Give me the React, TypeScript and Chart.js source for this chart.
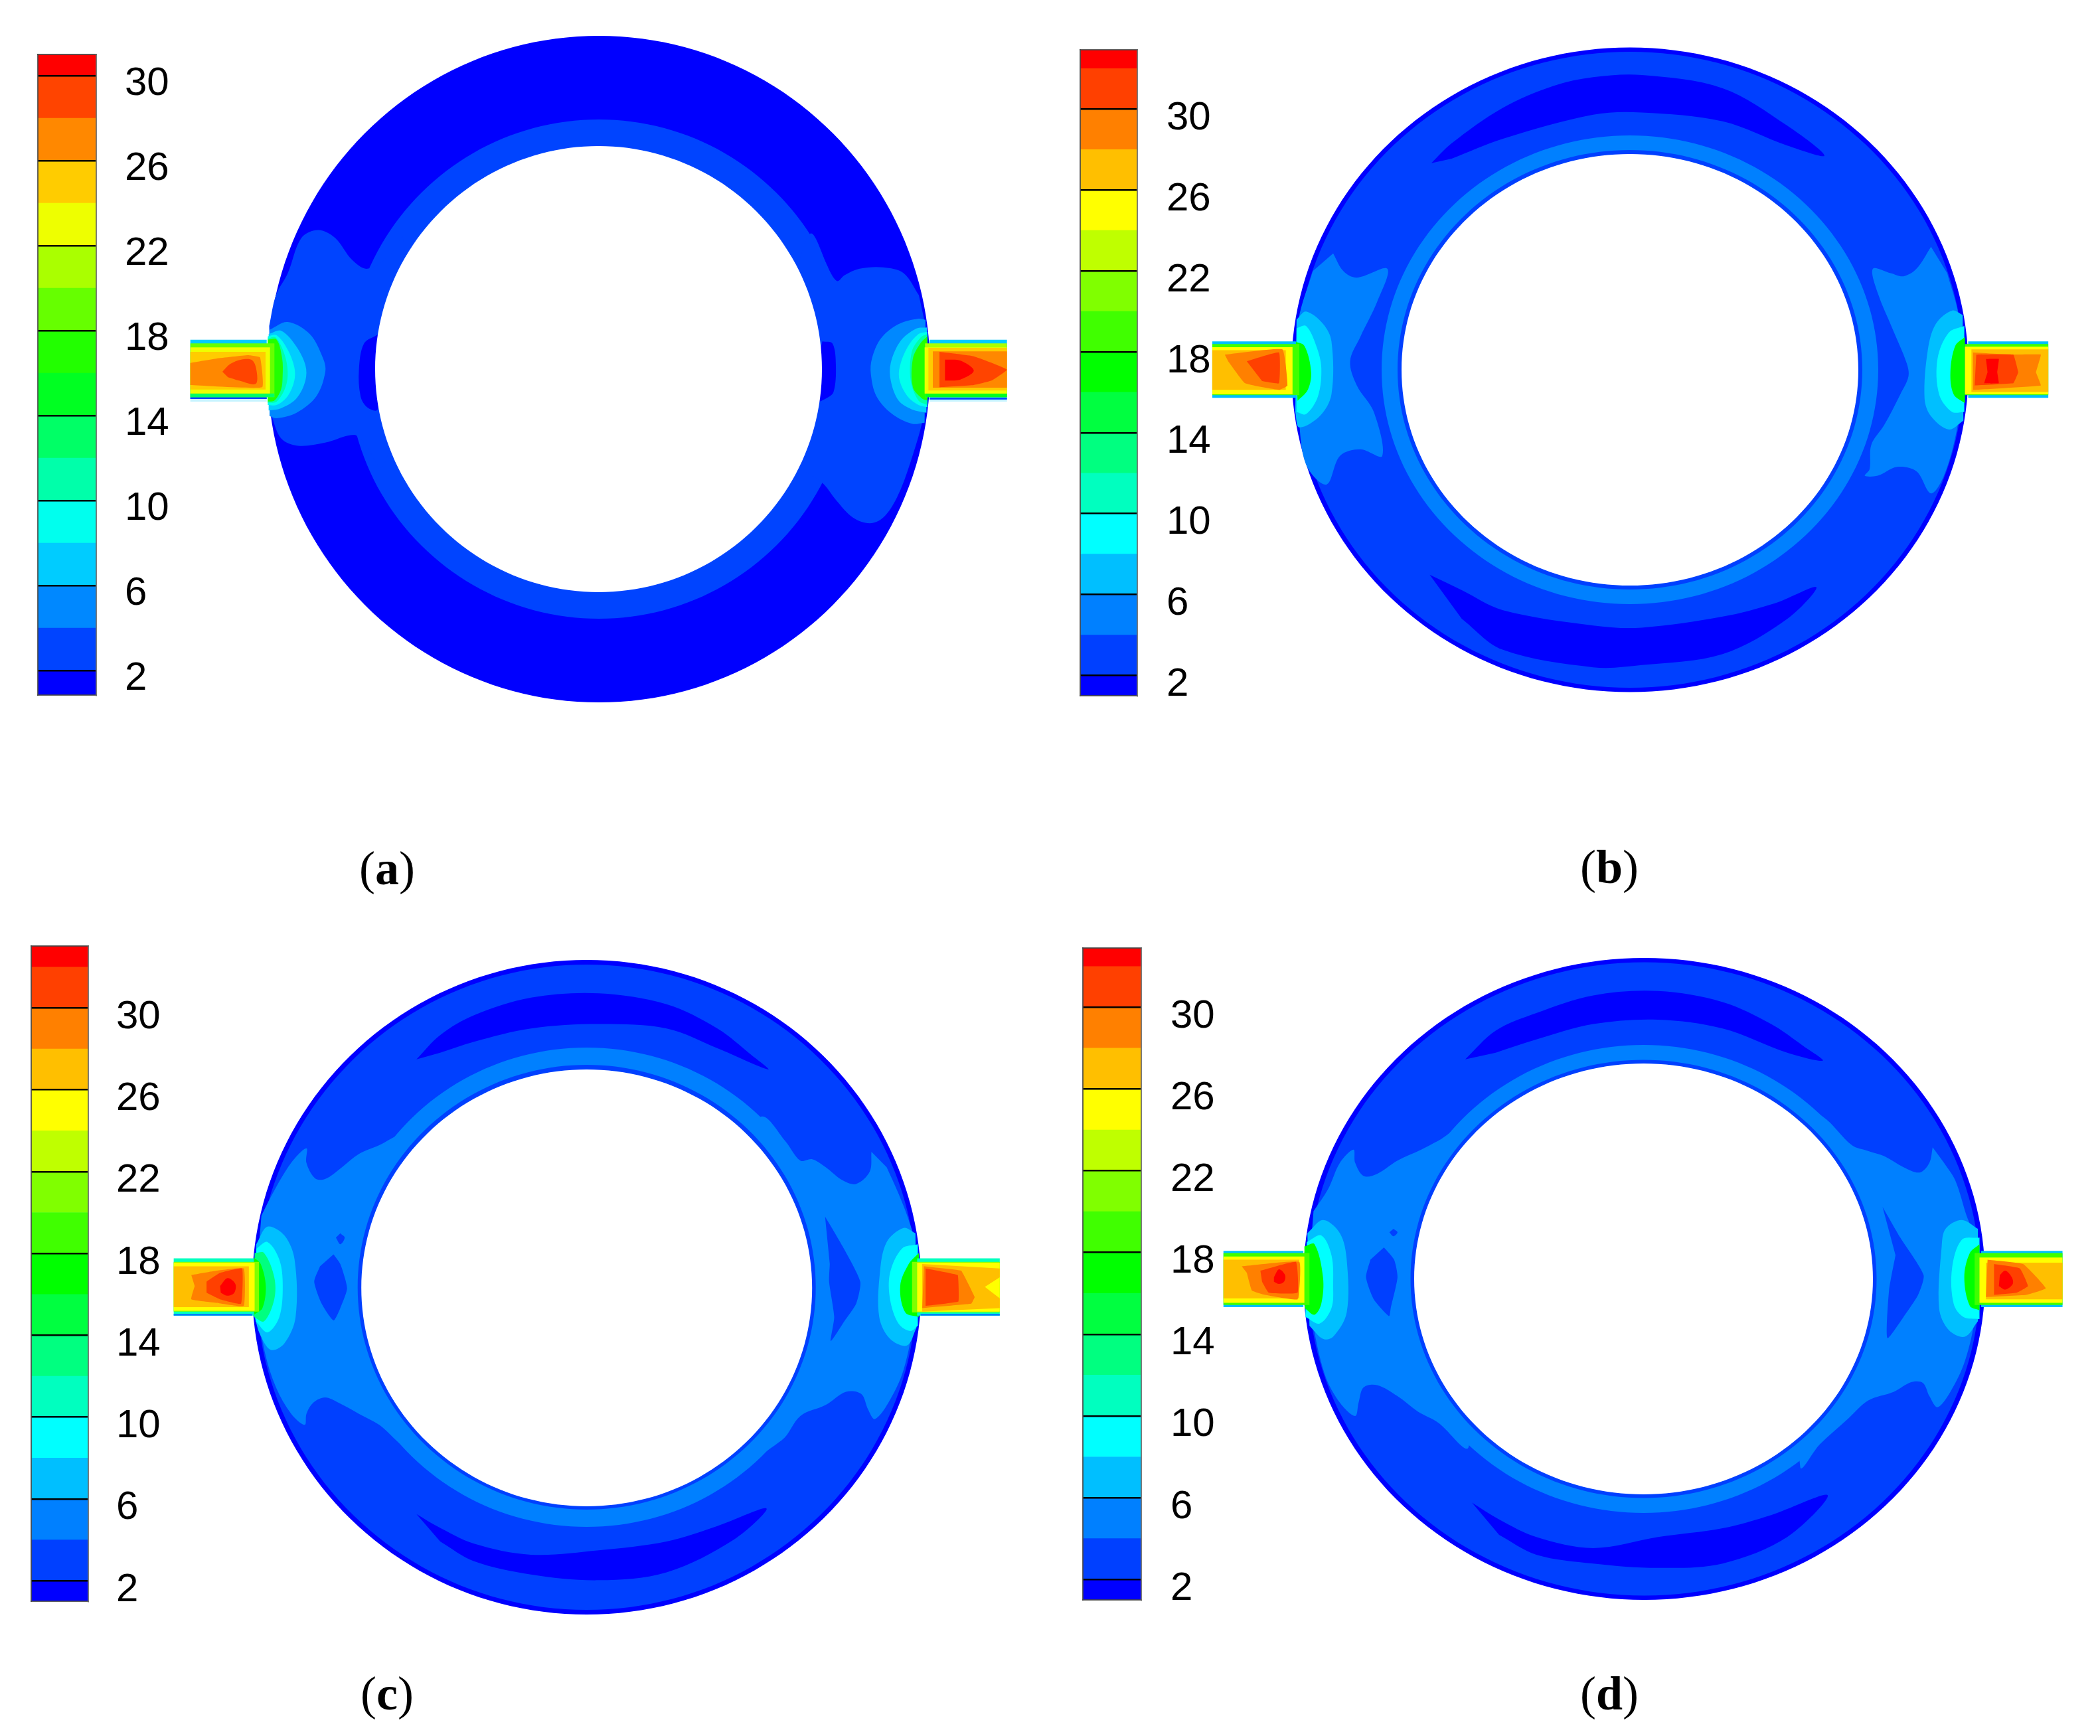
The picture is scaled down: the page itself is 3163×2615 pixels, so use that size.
import React, { useEffect, useRef } from "react";
import { Chart, registerables } from "chart.js";

Chart.register(...registerables);

type P = { x: number; y: number };
type Pts = number[][];

// ---------- colour levels ----------
const edgesA = [0.85, 2, 4, 6, 8, 10, 12, 14, 16, 18, 20, 22, 24, 26, 28, 30, 31];
const edgesB = [1, 2, 4, 6, 8, 10, 12, 14, 16, 18, 20, 22, 24, 26, 28, 30, 32, 33.1];
const A = ["#0000ff", "#0044ff", "#0088ff", "#00ccff", "#00ffee", "#00ffaa", "#00ff66", "#00ff22", "#22ff00", "#66ff00", "#aaff00", "#eeff00", "#ffcc00", "#ff8800", "#ff4400", "#ff0000"];
const B = ["#0000ff", "#0040ff", "#0080ff", "#00bfff", "#00ffff", "#00ffbf", "#00ff80", "#00ff40", "#00ff00", "#40ff00", "#80ff00", "#bfff00", "#ffff00", "#ffbf00", "#ff8000", "#ff4000", "#ff0000"];
const tickValues = [2, 6, 10, 14, 18, 22, 26, 30];
const captions = ["a", "b", "c", "d"];

// ---------- reading frames of the picture (field units) ----------
const frame = (ox: number, oy: number, fx: number, fy: number) => (pts: Pts): P[] =>
  pts.map(([x, y]) => ({ x: ox + x * fx, y: oy + y * fy }));
const f1 = frame(0, 40, 0.51, 0.6633);
const f2 = frame(800, 40, 0.51, 0.6633);
const f3 = frame(260, 440, 1 / 3, 1 / 3);
const f4 = frame(1240, 440, 1 / 3, 1 / 3);
const f5 = frame(1600, 50, 0.51, 0.6633);
const f6 = frame(2400, 50, 0.4866, 0.6633);
const f7 = frame(0, 1400, 0.51, 0.6633);
const f8 = frame(800, 1400, 0.51, 0.6633);
const f9 = frame(1600, 1400, 0.51, 0.6633);
const f10 = frame(2400, 1400, 0.4866, 0.6633);

// the outline overlaps itself by one step at each end so the spline has no corner where it closes
const ringOutline = [[0.966, -0.259], [1, 0], [0.966, 0.259], [0.866, 0.5], [0.707, 0.707], [0.5, 0.866], [0.259, 0.966], [0, 1], [-0.259, 0.966], [-0.5, 0.866], [-0.707, 0.707], [-0.866, 0.5], [-0.966, 0.259], [-1, 0], [-0.966, -0.259], [-0.866, -0.5], [-0.707, -0.707], [-0.5, -0.866], [-0.259, -0.966], [0, -1], [0.259, -0.966], [0.5, -0.866], [0.707, -0.707], [0.866, -0.5], [0.966, -0.259], [1, 0], [0.966, 0.259]];
const ell = (cx: number, cy: number, rx: number, ry: number): P[] => ringOutline.map(([u, v]) => ({ x: cx + rx * u, y: cy + ry * v }));
const box = (f: (p: Pts) => P[], x0: number, y0: number, x1: number, y1: number): P[] => f([[x0, y0], [x1, y0], [x1, y1], [x0, y1]]);

type Layer = [P[], string, number?];
const SOFT = 0.337;

// ---------- panel (a) ----------
const aLeftPatch = f1([[795, 680], [815, 610], [850, 560], [890, 480], [940, 462], [990, 480], [1040, 530], [1085, 550], [1150, 520], [1190, 480], [1200, 780], [1130, 1000], [1075, 945], [1045, 927], [960, 945], [880, 952], [830, 935], [800, 880]]);
const aLeftBlob = f1([[1115, 700], [1075, 720], [1060, 780], [1065, 840], [1085, 865], [1115, 870], [1130, 780]]);
const aRightPatch = f2([[1145, 610], [1100, 560], [1040, 547], [970, 550], [925, 565], [905, 578], [885, 560], [825, 470], [780, 600], [780, 980], [865, 1040], [900, 1075], [950, 1115], [1000, 1128], [1040, 1115], [1080, 1070], [1120, 990], [1160, 880], [1172, 780], [1165, 680]]);
const aRightBlob = f2([[860, 715], [890, 720], [900, 770], [893, 830], [870, 845], [845, 850], [840, 780]]);
const aL1 = f3([[438, 170], [520, 135], [620, 190], [680, 300], [690, 360], [650, 470], [560, 545], [470, 570], [438, 560]]);
const aL2 = f3([[434, 190], [490, 175], [555, 240], [600, 330], [600, 400], [560, 480], [490, 525], [434, 535]]);
const aL3 = f3([[430, 200], [470, 195], [520, 260], [550, 340], [550, 400], [520, 470], [470, 510], [430, 510]]);
const aL4 = f3([[430, 210], [465, 205], [505, 280], [520, 360], [510, 430], [470, 495], [430, 500]]);
const aL5 = f3([[430, 215], [470, 215], [495, 300], [497, 380], [490, 440], [460, 490], [430, 495]]);
const aLOrange = f3([[80, 320], [200, 300], [340, 285], [395, 295], [405, 430], [80, 420]]);
const aLRed = f3([[225, 360], [260, 325], [310, 305], [360, 308], [380, 360], [375, 415], [300, 400], [250, 385]]);
const aR1 = f4([[462, 125], [430, 120], [340, 145], [260, 210], [220, 300], [215, 370], [240, 470], [310, 550], [400, 595], [458, 590]]);
const aR2 = f4([[468, 160], [420, 165], [350, 220], [305, 320], [305, 400], [340, 490], [400, 530], [466, 545]]);
const aR3 = f4([[470, 180], [430, 190], [380, 250], [345, 340], [345, 400], [380, 470], [430, 510], [470, 520]]);
const aR4 = f4([[470, 190], [440, 205], [400, 270], [395, 400], [430, 490], [470, 510]]);
const aR5 = f4([[470, 200], [440, 230], [405, 300], [405, 430], [445, 480], [470, 490]]);
const aROrangeRed = f4([[525, 270], [680, 290], [830, 350], [760, 400], [680, 420], [525, 430]]);
const aRRed = f4([[550, 305], [620, 310], [680, 355], [620, 395], [550, 400]]);

const panelA: Layer[] = [
  [ell(902, 556, 499, 502), A[0], SOFT],
  [ell(902, 556, 378, 376), A[1], SOFT],
  [aLeftPatch, A[1], SOFT],
  [aRightPatch, A[1], SOFT],
  [aLeftBlob, A[0], SOFT],
  [aRightBlob, A[0], SOFT],
  [aL1, A[2], SOFT], [aL2, A[3], SOFT], [aL3, A[4], SOFT], [aL4, A[5], SOFT], [aL5, A[8], SOFT],
  [box(f3, 80, 483, 425, 495), "#c8f4ff", 0],
  [box(f3, 80, 215, 425, 483), A[3], 0],
  [box(f3, 80, 475, 425, 483), A[1], 0],
  [box(f3, 80, 232, 460, 475), A[9], 0],
  [box(f3, 80, 458, 460, 475), A[6], 0],
  [box(f3, 80, 250, 440, 458), A[11], 0],
  [box(f3, 80, 270, 420, 440), A[12], 0],
  [aLOrange, A[13], 0.1], [aLRed, A[14], SOFT],
  [aR1, A[2], SOFT], [aR2, A[3], SOFT], [aR3, A[4], SOFT], [aR4, A[5], SOFT], [aR5, A[8], SOFT],
  [box(f4, 480, 485, 830, 495), "#c8f4ff", 0],
  [box(f4, 480, 215, 830, 485), A[3], 0],
  [box(f4, 480, 478, 830, 485), A[1], 0],
  [box(f4, 460, 232, 830, 475), A[10], 0],
  [box(f4, 460, 458, 830, 475), A[7], 0],
  [box(f4, 458, 250, 830, 458), A[11], 0],
  [box(f4, 475, 252, 830, 445), A[12], 0],
  [box(f4, 495, 268, 830, 432), A[13], 0],
  [aROrangeRed, A[14], 0.1], [aRRed, A[15], SOFT],
  [ell(901.5, 556, 336.5, 336), "#ffffff", SOFT],
];

// ---------- panel (b) ----------
const bTopCres = [...f5([[1090, 295], [1150, 250], [1300, 170], [1450, 120], [1568, 100]]), ...f6([[150, 95], [400, 125], [600, 210], [715, 278], [600, 255], [400, 200], [150, 180]]), ...f5([[1568, 185], [1300, 240], [1150, 285]])];
const bBotCres = [...f5([[1085, 1230], [1180, 1265], [1300, 1310], [1568, 1345]]), ...f6([[150, 1350], [400, 1325], [560, 1295], [690, 1258], [600, 1330], [400, 1410], [150, 1435]]), ...f5([[1568, 1440], [1300, 1400], [1180, 1330]])];
const bLPatch = f5([[800, 500], [830, 540], [870, 555], [960, 535], [930, 610], [880, 690], [850, 745], [870, 800], [920, 860], [945, 960], [880, 945], [820, 960], [780, 1025], [720, 980], [698, 870], [690, 780], [698, 650], [740, 540]]);
const bRPatch = f6([[1045, 485], [1000, 535], [960, 552], [920, 545], [865, 535], [880, 590], [925, 670], [970, 750], [975, 780], [950, 820], [900, 890], [860, 935], [855, 990], [840, 1005], [880, 1005], [940, 985], [1000, 995], [1045, 1045], [1085, 1005], [1125, 900], [1145, 780], [1130, 640], [1095, 545]]);
const bL1 = f5([[692, 650], [720, 632], [770, 660], [795, 700], [795, 820], [760, 870], [700, 895], [688, 860]]);
const bL2 = f5([[692, 670], [720, 665], [750, 710], [765, 760], [755, 825], [720, 865], [692, 860]]);
const bL3 = f5([[685, 700], [715, 710], [735, 770], [725, 810], [695, 835]]);
const bLOrange = f5([[480, 730], [650, 718], [665, 800], [640, 810], [540, 795], [490, 745]]);
const bLRed = f5([[545, 745], [640, 725], [640, 795], [590, 790]]);
const bR1 = f6([[1143, 640], [1110, 630], [1060, 660], [1035, 720], [1025, 830], [1045, 870], [1100, 900], [1145, 880]]);
const bR2 = f6([[1148, 665], [1100, 680], [1065, 740], [1070, 820], [1110, 860], [1148, 860]]);
const bR3 = f6([[1150, 690], [1120, 710], [1105, 770], [1115, 820], [1150, 840]]);
const bROrange = f6([[1175, 725], [1300, 730], [1385, 730], [1370, 770], [1385, 800], [1175, 810]]);
const bROrangeRed = f6([[1185, 730], [1300, 730], [1315, 770], [1300, 795], [1180, 800]]);
const bRRed = f6([[1215, 740], [1255, 740], [1250, 770], [1255, 795], [1210, 795], [1220, 770]]);

const panelB: Layer[] = [
  [ell(2455, 557, 510, 485.5), B[0], SOFT],
  [ell(2455, 557, 503, 479), B[1], SOFT],
  [bTopCres, B[0], SOFT], [bBotCres, B[0], SOFT],
  [ell(2455, 557, 374, 353), B[2], SOFT],
  [bLPatch, B[2], SOFT], [bRPatch, B[2], SOFT],
  [ell(2455, 557, 350, 331), B[1], SOFT],
  [bL1, B[3], SOFT], [bL2, B[4], SOFT], [bL3, B[8], SOFT],
  [box(f5, 443, 700, 690, 828), B[3], 0],
  [box(f5, 443, 706, 700, 822), B[9], 0],
  [box(f5, 443, 713, 680, 820), B[12], 0],
  [box(f5, 443, 720, 660, 810), B[13], 0],
  [bLOrange, B[14], 0.1], [bLRed, B[15], 0.1],
  [bR1, B[3], SOFT], [bR2, B[4], SOFT], [bR3, B[8], SOFT],
  [box(f6, 1160, 700, 1408, 828), B[3], 0],
  [box(f6, 1150, 706, 1408, 822), B[9], 0],
  [box(f6, 1150, 712, 1408, 820), B[12], 0],
  [box(f6, 1170, 718, 1408, 815), B[13], 0],
  [bROrange, B[14], 0.05], [bROrangeRed, B[15], 0.05], [bRRed, B[16], 0.05],
  [ell(2455, 557, 344, 325), "#ffffff", SOFT],
];

// ---------- panel (c) ----------
const cTopCres = [...f7([[1230, 295], [1300, 240], [1400, 195], [1568, 155]]), ...f8([[200, 145], [400, 170], [550, 225], [650, 285], [700, 318], [550, 270], [400, 225], [200, 215]]), ...f7([[1568, 225], [1400, 255], [1300, 280]])];
const cBotCres = [...f7([[1230, 1328], [1290, 1355], [1400, 1395], [1568, 1420]]), ...f8([[200, 1410], [400, 1390], [550, 1355], [695, 1315], [600, 1385], [400, 1460], [200, 1478]]), ...f7([[1568, 1465], [1400, 1435], [1300, 1390]])];
const cLPatch = f7([[772, 650], [805, 600], [860, 530], [905, 497], [905, 530], [930, 565], [960, 567], [1010, 540], [1060, 510], [1120, 490], [1185, 465], [1220, 470], [1180, 800], [1200, 1170], [1120, 1125], [1060, 1100], [1000, 1075], [960, 1063], [925, 1075], [905, 1100], [900, 1125], [860, 1100], [815, 1040], [782, 960], [762, 860], [760, 760]]);
const cLDiamond = f7([[985, 738], [1005, 760], [1025, 815], [1005, 860], [985, 888], [950, 850], [928, 800], [945, 765]]);
const cLDot = f7([[1005, 690], [1018, 700], [1005, 715], [992, 700]]);
const cRPatch = f8([[1005, 505], [1000, 550], [960, 578], [920, 570], [870, 540], [830, 522], [795, 525], [750, 480], [680, 425], [600, 500], [620, 1200], [740, 1160], [795, 1105], [870, 1080], [930, 1050], [975, 1055], [995, 1090], [1015, 1112], [1055, 1075], [1100, 1000], [1130, 880], [1135, 720], [1115, 660], [1085, 600], [1050, 540]]);
const cRDark = f8([[868, 652], [920, 720], [972, 800], [960, 850], [925, 890], [885, 935], [895, 880], [880, 800], [882, 760]]);
const cL1 = f7([[757, 715], [790, 675], [840, 695], [870, 750], [873, 880], [840, 940], [800, 955], [768, 920], [752, 880]]);
const cL2 = f7([[757, 725], [790, 710], [825, 750], [835, 810], [825, 880], [790, 915], [755, 890]]);
const cL3 = f7([[752, 735], [780, 735], [810, 790], [810, 840], [780, 890], [750, 880]]);
const cL4 = f7([[750, 745], [770, 760], [785, 810], [775, 860], [750, 875]]);
const cLOrange = f7([[565, 785], [640, 775], [720, 770], [720, 855], [640, 848], [565, 840], [575, 810]]);
const cLOrangeRed = f7([[610, 800], [650, 780], [715, 770], [712, 850], [650, 840], [610, 825]]);
const cLRed = f7([[650, 810], [672, 792], [695, 805], [692, 825], [672, 832], [652, 825]]);
const cR1 = f8([[1135, 690], [1100, 678], [1050, 710], [1030, 780], [1028, 880], [1060, 930], [1110, 945], [1138, 905]]);
const cR2 = f8([[1142, 715], [1095, 725], [1060, 780], [1060, 840], [1085, 895], [1120, 912], [1142, 900]]);
const cR3 = f8([[1145, 735], [1115, 760], [1090, 810], [1105, 870], [1145, 880]]);
const cRAmber = f8([[1155, 760], [1384, 770], [1384, 790], [1340, 812], [1384, 838], [1384, 860], [1155, 868]]);
const cROrange = f8([[1160, 765], [1270, 775], [1310, 835], [1300, 850], [1155, 860]]);
const cROrangeRed = f8([[1165, 770], [1260, 785], [1262, 845], [1165, 855]]);

const panelC: Layer[] = [
  [ell(883.7, 1939, 504, 493), B[0], SOFT],
  [ell(883.7, 1939, 497, 486), B[1], SOFT],
  [cTopCres, B[0], SOFT], [cBotCres, B[0], SOFT],
  [ell(883.7, 1939, 372, 361), B[2], SOFT],
  [cLPatch, B[2], SOFT], [cRPatch, B[2], SOFT],
  [cLDiamond, B[1], 0.2], [cLDot, B[1], SOFT], [cRDark, B[1], 0.2],
  [ell(883.7, 1939, 345, 335), B[1], SOFT],
  [cL1, B[3], SOFT], [cL2, B[4], SOFT], [cL3, B[6], SOFT], [cL4, B[8], SOFT],
  [box(f7, 513, 747, 750, 877), B[5], 0],
  [box(f7, 513, 873, 745, 877), B[2], 0],
  [box(f7, 513, 755, 765, 868), B[10], 0],
  [box(f7, 513, 757, 752, 866), B[12], 0],
  [box(f7, 513, 765, 735, 858), B[13], 0],
  [cLOrange, B[14], 0.1], [cLOrangeRed, B[15], 0.1], [cLRed, B[16], SOFT],
  [cR1, B[3], SOFT], [cR2, B[4], SOFT], [cR3, B[8], SOFT],
  [box(f8, 1140, 747, 1384, 877), B[5], 0],
  [box(f8, 1150, 873, 1384, 877), B[2], 0],
  [box(f8, 1125, 755, 1384, 870), B[10], 0],
  [box(f8, 1140, 757, 1384, 868), B[12], 0],
  [cRAmber, B[13], 0],
  [cROrange, B[14], 0.05], [cROrangeRed, B[15], 0.05],
  [ell(883.7, 1940, 339.5, 329), "#ffffff", SOFT],
];

// ---------- panel (d) ----------
const dTopCres = [...f9([[1190, 295], [1280, 230], [1400, 190], [1568, 150]]), ...f10([[200, 140], [400, 165], [550, 215], [650, 265], [710, 298], [600, 280], [400, 225], [200, 205]]), ...f9([[1568, 215], [1400, 250], [1280, 280]])];
const dBotCres = [...f9([[1210, 1302], [1290, 1340], [1400, 1380], [1568, 1405]]), ...f10([[200, 1380], [400, 1360], [550, 1330], [725, 1285], [600, 1380], [400, 1440], [200, 1450]]), ...f9([[1568, 1440], [1400, 1420], [1290, 1375]])];
const dLPatch = f9([[742, 640], [785, 590], [820, 530], [860, 500], [865, 530], [890, 560], [930, 555], [990, 525], [1060, 500], [1110, 480], [1190, 450], [1220, 800], [1200, 1175], [1110, 1120], [1050, 1095], [990, 1060], [930, 1035], [890, 1040], [875, 1075], [865, 1105], [820, 1075], [775, 1010], [738, 880], [730, 760]]);
const dLDiamond = f9([[950, 722], [980, 750], [990, 790], [970, 860], [965, 878], [920, 840], [897, 790], [910, 750]]);
const dLDot = f9([[978, 680], [990, 688], [978, 697], [966, 688]]);
const dRPatch = f10([[1050, 495], [1040, 530], [1010, 552], [960, 540], [900, 515], [850, 503], [800, 490], [710, 425], [600, 390], [640, 1220], [700, 1170], [790, 1110], [850, 1070], [930, 1050], [985, 1028], [1020, 1030], [1040, 1060], [1065, 1085], [1105, 1050], [1150, 980], [1180, 880], [1185, 710], [1155, 650], [1120, 570], [1085, 530]]);
const dRDark = f10([[895, 630], [950, 700], [1022, 785], [1005, 830], [960, 880], [910, 928], [915, 820], [935, 740]]);
const dL1 = f9([[724, 690], [770, 660], [820, 690], [840, 750], [840, 870], [800, 925], [770, 930], [730, 900]]);
const dL2 = f9([[722, 710], [765, 695], [795, 740], [800, 810], [795, 860], [760, 895], [718, 880]]);
const dL3 = f9([[715, 720], [745, 715], [770, 790], [765, 850], [745, 875], [716, 860]]);
const dLOrange = f9([[530, 765], [700, 755], [695, 840], [600, 830], [560, 820], [545, 780]]);
const dLOrangeRed = f9([[585, 775], [690, 755], [695, 825], [610, 825], [590, 800]]);
const dLRed = f9([[625, 790], [640, 772], [658, 785], [655, 800], [640, 805], [625, 800]]);
const dR1 = f10([[1190, 680], [1140, 660], [1090, 680], [1078, 720], [1070, 860], [1100, 910], [1150, 925], [1190, 890]]);
const dR2 = f10([[1195, 700], [1140, 705], [1110, 770], [1115, 850], [1145, 880], [1195, 885]]);
const dR3 = f10([[1195, 715], [1165, 735], [1148, 790], [1165, 855], [1195, 865]]);
const dROrange = f10([[1220, 750], [1330, 760], [1400, 815], [1340, 830], [1215, 835]]);
const dROrangeRed = f10([[1240, 760], [1320, 770], [1345, 810], [1310, 825], [1240, 830]]);
const dRRed = f10([[1258, 785], [1275, 775], [1295, 790], [1298, 805], [1275, 818], [1255, 810]]);

const panelD: Layer[] = [
  [ell(2476.5, 1926.5, 513.5, 483.5), B[0], SOFT],
  [ell(2476.5, 1926.5, 506, 477), B[1], SOFT],
  [dTopCres, B[0], SOFT], [dBotCres, B[0], SOFT],
  [ell(2475.5, 1926.5, 374, 352.5), B[2], SOFT],
  [dLPatch, B[2], SOFT], [dRPatch, B[2], SOFT],
  [dLDiamond, B[1], 0.2], [dLDot, B[1], SOFT], [dRDark, B[1], 0.2],
  [ell(2475.5, 1926.5, 351, 330), B[1], SOFT],
  [dL1, B[3], SOFT], [dL2, B[4], SOFT], [dL3, B[8], SOFT],
  [box(f9, 476, 730, 712, 858), B[3], 0],
  [box(f9, 476, 735, 730, 853), B[9], 0],
  [box(f9, 476, 743, 715, 848), B[12], 0],
  [box(f9, 476, 750, 700, 838), B[13], 0],
  [dLOrange, B[14], 0.1], [dLOrangeRed, B[15], 0.1], [dLRed, B[16], SOFT],
  [dR1, B[3], SOFT], [dR2, B[4], SOFT], [dR3, B[8], SOFT],
  [box(f10, 1200, 730, 1452, 858), B[3], 0],
  [box(f10, 1180, 735, 1452, 853), B[9], 0],
  [box(f10, 1195, 745, 1452, 848), B[12], 0],
  [box(f10, 1215, 757, 1452, 840), B[13], 0],
  [dROrange, B[14], 0.1], [dROrangeRed, B[15], 0.1], [dRRed, B[16], SOFT],
  [ell(2475.5, 1926.5, 345.5, 324.5), "#ffffff", SOFT],
];

const allLayers: Layer[] = [...panelA, ...panelB, ...panelC, ...panelD];

// ---------- colour bars ----------
const PAD = 3;
const LABEL_W = 130;
const bars = [
  { edges: edgesA, colors: A, left: 57, right: 145, top: 82, bottom: 1047, min: 0.85, max: 31.0, pad: 43, off: 12 },
  { edges: edgesB, colors: B, left: 1627, right: 1713, top: 74.5, bottom: 1048, min: 1.0, max: 32.93, pad: 44, off: 14 },
  { edges: edgesB, colors: B, left: 47, right: 133, top: 1424.5, bottom: 2411.5, min: 1.0, max: 33.03, pad: 42, off: 14 },
  { edges: edgesB, colors: B, left: 1631, right: 1719, top: 1428, bottom: 2410, min: 1.0, max: 32.9, pad: 44, off: 14 },
];
const captionAt = [[583, 1308], [2424, 1306], [583, 2551], [2424, 2551]];

const hiddenAxis = (extra: any) => ({
  display: true,
  ticks: { display: false },
  grid: { display: false, drawTicks: false },
  border: { display: true, color: "rgba(70,70,70,0.85)", width: 2, z: 2 },
  ...extra,
});

function ColorBar({ spec }: { spec: (typeof bars)[number] }) {
  const ref = useRef<HTMLCanvasElement>(null);
  useEffect(() => {
    const bands = spec.colors.map((color, i) => ({
      label: `${spec.edges[i]}–${spec.edges[i + 1]}`,
      data: [[Math.max(spec.edges[i], spec.min), Math.min(spec.edges[i + 1], spec.max)]],
      backgroundColor: color,
      borderWidth: 0,
      barPercentage: 1,
      categoryPercentage: 1,
    }));
    const chart = new Chart(ref.current!, {
      type: "bar",
      data: { labels: ["level"], datasets: bands as any },
      options: {
        responsive: false,
        animation: false,
        devicePixelRatio: 1,
        layout: { padding: { left: PAD, top: PAD, bottom: PAD, right: 0 } },
        plugins: { legend: { display: false }, tooltip: { enabled: false } },
        scales: {
          x: hiddenAxis({ type: "category", position: "bottom", stacked: true, afterFit: (s: any) => { s.height = 0; s.paddingLeft = 0; s.paddingRight = 0; } }),
          xTop: hiddenAxis({ type: "category", position: "top", labels: ["level"], afterFit: (s: any) => { s.height = 0; s.paddingLeft = 0; s.paddingRight = 0; } }),
          yLeft: hiddenAxis({ type: "linear", position: "left", min: spec.min, max: spec.max, afterFit: (s: any) => { s.width = 0; s.paddingTop = 0; s.paddingBottom = 0; } }),
          y: {
            type: "linear",
            position: "right",
            min: spec.min,
            max: spec.max,
            afterBuildTicks: (axis: any) => { axis.ticks = tickValues.map((value) => ({ value })); },
            afterFit: (s: any) => { s.width = LABEL_W; s.paddingTop = 0; s.paddingBottom = 0; },
            grid: { color: "#000000", lineWidth: 2.5, drawTicks: false, z: 1 },
            border: { display: true, color: "rgba(110,110,110,0.9)", width: 2, z: 2 },
            ticks: {
              autoSkip: false,
              padding: spec.pad,
              labelOffset: spec.off,
              color: "#000000",
              font: { family: "'Liberation Sans'", size: 60 },
              callback: (v: any) => String(v),
            },
          },
        } as any,
      },
    });
    return () => chart.destroy();
  }, []);
  return (
    <canvas
      ref={ref}
      width={spec.right - spec.left + LABEL_W + PAD}
      height={spec.bottom - spec.top + 2 * PAD}
      style={{ position: "absolute", left: spec.left - PAD, top: spec.top - PAD, display: "block" }}
    />
  );
}

function Field() {
  const ref = useRef<HTMLCanvasElement>(null);
  useEffect(() => {
    const datasets = allLayers
      .map(([data, color, tension], i) => ({
        label: `contour ${i}`,
        data,
        showLine: true,
        fill: "shape",
        backgroundColor: color,
        borderColor: color,
        borderWidth: 0,
        pointRadius: 0,
        tension: tension ?? 0,
      }))
      .reverse();
    const chart = new Chart(ref.current!, {
      type: "scatter",
      data: { datasets: datasets as any },
      options: {
        responsive: false,
        animation: false,
        devicePixelRatio: 1,
        layout: { padding: 0 },
        plugins: { legend: { display: false }, tooltip: { enabled: false } },
        scales: {
          x: { type: "linear", display: false, min: 0, max: 3163 },
          y: { type: "linear", display: false, min: 0, max: 2615, reverse: true },
        },
      },
    });
    return () => chart.destroy();
  }, []);
  return <canvas ref={ref} width={3163} height={2615} style={{ position: "absolute", left: 0, top: 0, display: "block" }} />;
}

export default function App() {
  return (
    <div style={{ position: "absolute", left: 0, top: 0, width: 3163, height: 2615, background: "#fff", overflow: "hidden" }}>
      <Field />
      {bars.map((spec, i) => (
        <ColorBar key={i} spec={spec} />
      ))}
      {captions.map((c, i) => (
        <div
          key={c}
          style={{
            position: "absolute",
            left: captionAt[i][0],
            top: captionAt[i][1],
            transform: "translate(-50%,-50%)",
            fontFamily: "'Liberation Serif'",
            fontSize: 72,
            color: "#000",
            lineHeight: 1,
            whiteSpace: "nowrap",
          }}
        >
          (<b>{c}</b>)
        </div>
      ))}
    </div>
  );
}
